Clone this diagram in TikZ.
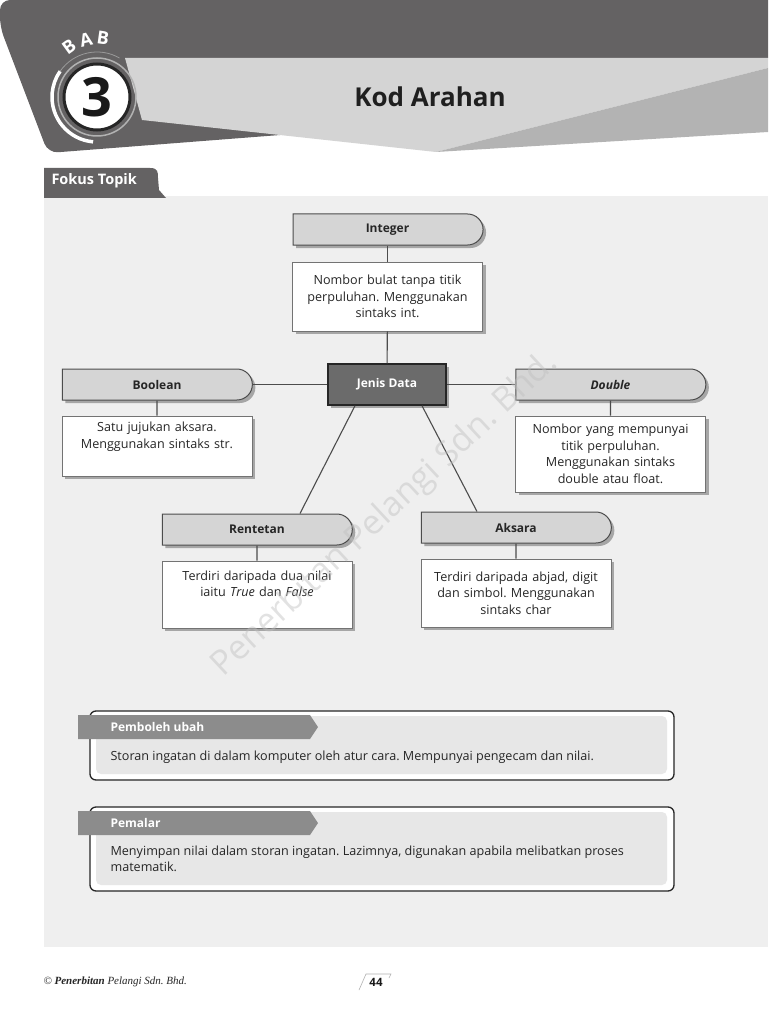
\documentclass[tikz,border=0pt]{standalone}
\usepackage{fontspec}
\setmainfont{Open Sans}
\newfontfamily\serifkaki{Liberation Serif}
\usepackage{tikz}
\usetikzlibrary{shapes.misc, shapes.geometric, positioning, shadows, calc}
\definecolor{kelabugelap}{HTML}{646263}
\definecolor{jalurcerah}{HTML}{D4D4D4}
\definecolor{jalursederhana}{HTML}{B3B3B3}
\definecolor{latarhalaman}{HTML}{EFEFEF}
\definecolor{kelabukepala}{HTML}{D5D5D5}
\definecolor{kelabupusat}{HTML}{6B6B6B}
\definecolor{kelabutab}{HTML}{8C8C8C}
\definecolor{kelabudalam}{HTML}{E7E7E7}
\frenchspacing

\begin{document}
\begin{tikzpicture}[x=1pt, y=-1pt,
  kepala/.style={rounded rectangle, rounded rectangle left arc=none, draw=black!70, line width=1pt, fill=kelabukepala, minimum width=190pt, minimum height=31pt, inner sep=0pt, font=\bfseries\fontsize{12}{14}\selectfont, text=black!85, drop shadow={shadow xshift=3pt, shadow yshift=-3pt, fill=black!35, opacity=1}},
  huraian/.style={rectangle, draw=black!55, line width=0.8pt, fill=white, minimum width=190pt, text width=180pt, inner xsep=5pt, align=center, font=\fontsize{12.6}{16.5}\selectfont, text=black!85, drop shadow={shadow xshift=3pt, shadow yshift=-3pt, fill=black!35, opacity=1}},
  pusat/.style={rectangle, draw=black!85, line width=1.5pt, fill=kelabupusat, minimum width=118pt, minimum height=41pt, font=\bfseries\fontsize{12}{14}\selectfont, text=white, drop shadow={shadow xshift=3pt, shadow yshift=-3pt, fill=black!35, opacity=1}},
  garis/.style={draw=black!70, line width=1.1pt},
  bingkai/.style={draw=black!85, line width=1.3pt, fill=white, rounded corners=6pt},
  tablabel/.style={anchor=west, font=\bfseries\fontsize{12}{14}\selectfont, text=white},
  isi/.style={anchor=west, align=left, font=\fontsize{12.6}{16.5}\selectfont, text=black!85}]

\useasboundingbox (0,0) rectangle (768,1024);
\fill[white] (0,0) rectangle (768,1024);

% kepala bab
\fill[kelabugelap] (0,0) -- (768,0) -- (768,58) -- (280,135) [rounded corners=10pt] -- (48,153) -- (0,27) -- cycle;
\fill[jalurcerah] (125,58) -- (768,58) -- (768,68) -- (436,152) -- (142,120) -- cycle;
\fill[jalursederhana] (768,68) -- (436,152) -- (768,132) -- cycle;
\draw[black!30, line width=1.5pt] (97,97) circle (39);
\fill[white] (97,97) circle (34);
\draw[black!85, line width=3pt] (97,97) circle (33);
\draw[white, line width=3.5pt] (97,97) ++(95:45) arc[start angle=95, end angle=215, radius=45];
\draw[black!40, line width=0.8pt] (97,97) ++(215:45) arc[start angle=215, end angle=300, radius=45];
\node[font=\bfseries\fontsize{54}{54}\selectfont, text=black!90] (nombor) at (97,97) {3};
\node[font=\bfseries\fontsize{18}{18}\selectfont, text=white, rotate=36] (huruf1) at (69,47) {B};
\node[font=\bfseries\fontsize{18}{18}\selectfont, text=white, rotate=13] (huruf2) at (86,40) {A};
\node[font=\bfseries\fontsize{18}{18}\selectfont, text=white, rotate=-8] (huruf3) at (103,38) {B};
\node[font=\bfseries\fontsize{26}{28}\selectfont, text=black!88] (tajuk) at (430,97) {Kod Arahan};

% latar halaman
\fill[latarhalaman] (44,196) rectangle (768,947);
\fill[kelabugelap] (44,198) -- (44,168) -- (150,168) .. controls (158,168) and (158,172) .. (158,178) -- (159,190) -- (166,198) -- cycle;
\node[anchor=west, font=\bfseries\fontsize{14.5}{16}\selectfont, text=white] (fokus) at (48,181) {Fokus Topik};

% peta jenis data
\node[kepala] (integer) at (387.5,229.5) {Integer};
\node[huraian, below=16pt of integer, minimum height=69pt] (intdesc) {Nombor bulat tanpa titik\\perpuluhan. Menggunakan\\sintaks int.};
\node[pusat] (jenis) at (387,384.5) {Jenis Data};

\node[kepala] (boolean) at (157,384.5) {Boolean};
\node[huraian, below=15pt of boolean, minimum height=60pt] (booldesc) {Satu jujukan aksara.\\Menggunakan sintaks str.\\ \strut};

\node[kepala] (double) at (610.5,384.5) {\textit{Double}};
\node[huraian, below=15pt of double, minimum height=76pt] (dbldesc) {Nombor yang mempunyai\\titik perpuluhan.\\Menggunakan sintaks\\double atau float.};

\node[kepala] (rentetan) at (257,529.5) {Rentetan};
\node[huraian, below=15pt of rentetan, minimum height=67pt] (rentdesc) {Terdiri daripada dua nilai\\iaitu \textit{True} dan \textit{False}\\ \strut};

\node[kepala] (aksara) at (516,527.5) {Aksara};
\node[huraian, below=15pt of aksara, minimum height=68pt] (aksdesc) {Terdiri daripada abjad, digit\\dan simbol. Menggunakan\\sintaks char};

\draw[garis] (integer) -- (intdesc);
\draw[garis] (intdesc) -- (jenis);
\draw[garis] (boolean) -- (booldesc);
\draw[garis] (double) -- (dbldesc);
\draw[garis] (rentetan) -- (rentdesc);
\draw[garis] (aksara) -- (aksdesc);
\draw[garis] (boolean.east) -- (jenis.west);
\draw[garis] (jenis.east) -- (double.west);
\draw[garis] ([xshift=-32pt]jenis.south) -- ([xshift=43pt]rentetan.north);
\draw[garis] ([xshift=35pt]jenis.south) -- ([xshift=-39pt]aksara.north);

% tera air
\node[rotate=43, font=\fontsize{34}{34}\selectfont, text=black!25, opacity=0.45] (tera) at (385,515) {Penerbitan Pelangi Sdn. Bhd.};

% kotak pemboleh ubah
\draw[bingkai] (90,711) rectangle (674,780);
\fill[kelabudalam, rounded corners=5pt] (96,716) rectangle (667,774);
\fill[kelabutab] (78,715) -- (310,715) -- (318,727) -- (310,739) -- (78,739) -- cycle;
\node[tablabel] (pemboleh) at (107,727) {Pemboleh ubah};
\node[isi] (pembolehisi) at (107,757) {Storan ingatan di dalam komputer oleh atur cara. Mempunyai pengecam dan nilai.};

% kotak pemalar
\draw[bingkai] (90,807) rectangle (674,891);
\fill[kelabudalam, rounded corners=5pt] (96,812) rectangle (667,885);
\fill[kelabutab] (78,811) -- (310,811) -- (318,823) -- (310,835) -- (78,835) -- cycle;
\node[tablabel] (pemalar) at (107,823) {Pemalar};
\node[isi] (pemalarisi) at (107,859) {Menyimpan nilai dalam storan ingatan. Lazimnya, digunakan apabila melibatkan proses\\matematik.};

% kaki halaman
\node[anchor=west, font=\serifkaki\itshape\fontsize{11}{12}\selectfont, text=black!85] (hakcipta) at (40,982) {\textcopyright{} \textbf{Penerbitan} Pelangi Sdn. Bhd.};
\draw[black!30, line width=0.6pt] (359,990) -- (366,974) -- (391,974) -- (389,978);
\node[font=\bfseries\fontsize{11.5}{12}\selectfont, text=black!90] (halaman) at (376,982) {44};
\end{tikzpicture}
\end{document}
